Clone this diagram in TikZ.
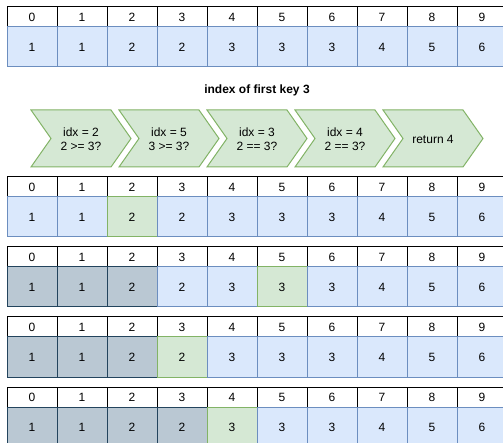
\documentclass[tikz,border=0pt]{standalone}
\usepackage{fontspec}
\setmainfont{Liberation Sans}
\usepackage{xcolor}
\usetikzlibrary{positioning}

\definecolor{blueFill}{HTML}{DAE8FC}
\definecolor{blueLine}{HTML}{6C8EBF}
\definecolor{greenFill}{HTML}{D5E8D4}
\definecolor{greenLine}{HTML}{82B366}
\definecolor{grayFill}{HTML}{BAC8D3}
\definecolor{grayLine}{HTML}{23445D}

\tikzset{
	cellbase/.style={minimum width=50pt, inner sep=0pt, outer sep=0pt, line width=1pt, font=\fontsize{12}{14}\selectfont},
	idxcell/.style={cellbase, draw=black, fill=white, minimum height=20pt},
	bluecell/.style={cellbase, draw=blueLine, fill=blueFill, minimum height=40pt},
	greencell/.style={cellbase, draw=greenLine, fill=greenFill, minimum height=40pt},
	graycell/.style={cellbase, draw=grayLine, fill=grayFill, minimum height=40pt},
	stepshape/.style={draw=greenLine, fill=greenFill, line width=1pt},
	steptext/.style={align=center, inner sep=0pt, font=\fontsize{12}{14}\selectfont}
}

% one array: name, top y, list of value/colour
\newcommand{\arrayrow}[3]{
	\foreach \v/\st [count=\i from 0] in {#3} {
		\node[idxcell] (#1h\i) at (32+50*\i, #2+10) {\i};
		\node[\st cell, below=0pt of #1h\i] (#1v\i) {\v};
	}
}

\begin{document}
\begin{tikzpicture}[x=1pt, y=-1pt]
	\useasboundingbox (0,0) rectangle (503,443);
	\clip (0,0) rectangle (503,443);

	\arrayrow{a}{7}{1/blue,1/blue,2/blue,2/blue,3/blue,3/blue,3/blue,4/blue,5/blue,6/blue}

	\node[font=\bfseries\fontsize{12}{14}\selectfont] (title) at (257,90) {index of first key 3};

	% binary search steps
	\foreach \lbl [count=\k from 0] in {{idx = 2\\2 >= 3?},{idx = 5\\3 >= 3?},{idx = 3\\2 == 3?},{idx = 4\\2 == 3?},{return 4}} {
		\draw[stepshape] (31+88*\k,110) -- (111+88*\k,110) -- (131+88*\k,138.5)
			-- (111+88*\k,167) -- (31+88*\k,167) -- (51+88*\k,138.5) -- cycle;
		\node[steptext] (step\k) at (81+88*\k,139) {\lbl};
	}

	\arrayrow{b}{177}{1/blue,1/blue,2/green,2/blue,3/blue,3/blue,3/blue,4/blue,5/blue,6/blue}
	\arrayrow{c}{247}{1/gray,1/gray,2/gray,2/blue,3/blue,3/green,3/blue,4/blue,5/blue,6/blue}
	\arrayrow{d}{317}{1/gray,1/gray,2/gray,2/green,3/blue,3/blue,3/blue,4/blue,5/blue,6/blue}
	\arrayrow{e}{387}{1/gray,1/gray,2/gray,2/gray,3/green,3/blue,3/blue,4/blue,5/blue,6/blue}
\end{tikzpicture}
\end{document}
